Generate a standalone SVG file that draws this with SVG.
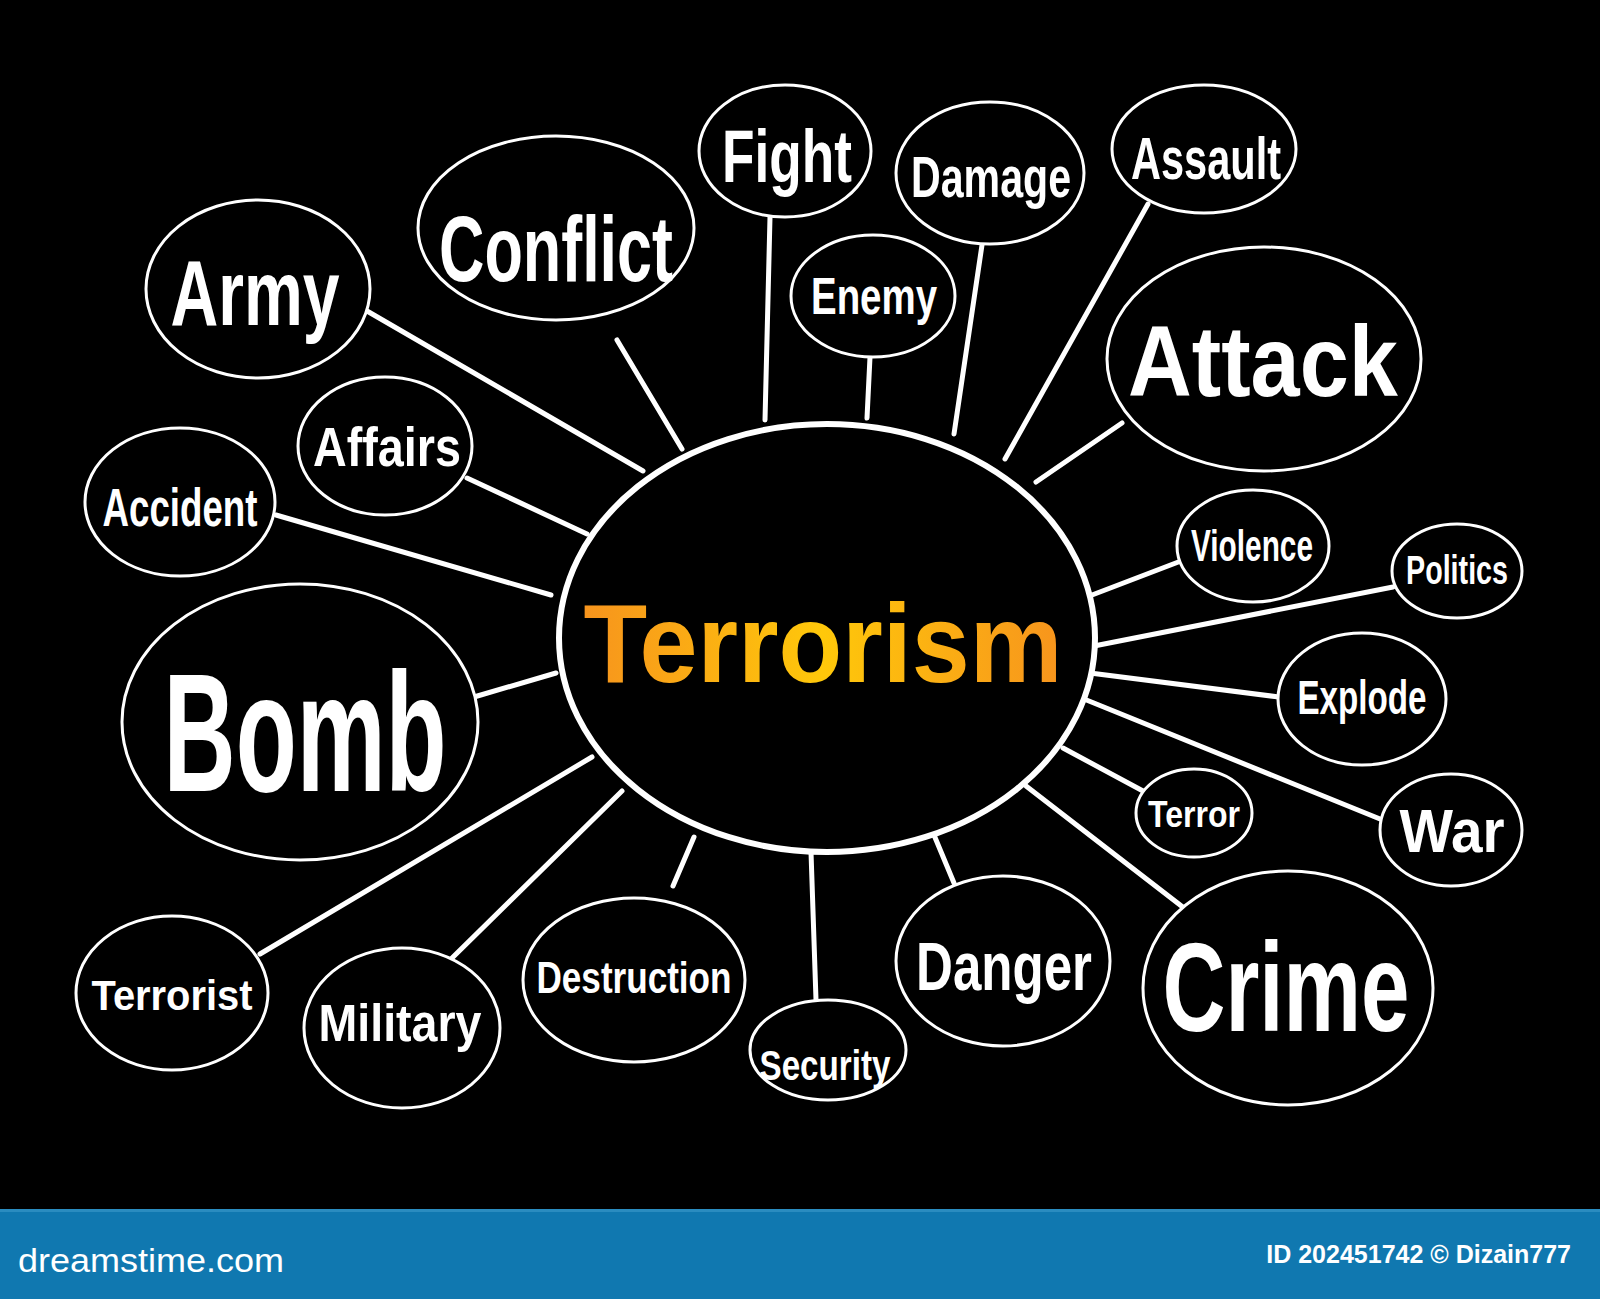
<svg xmlns="http://www.w3.org/2000/svg" width="1600" height="1299" viewBox="0 0 1600 1299">
<defs>
<linearGradient id="og" x1="0" y1="0" x2="1" y2="0">
<stop offset="0" stop-color="#f7941d"/>
<stop offset="0.5" stop-color="#ffc80a"/>
<stop offset="1" stop-color="#f7941d"/>
</linearGradient>
<style>
.n{fill:#000;stroke:#fff;stroke-width:3}
.c{fill:#000;stroke:#fff;stroke-width:6}
.t{fill:#fff;font-family:"Liberation Sans",Arial,sans-serif;font-weight:bold;text-anchor:middle}
.e line{stroke:#fff;stroke-width:5;stroke-linecap:round}
.bar{font-family:"Liberation Sans",Arial,sans-serif;fill:#fff}
</style>
</defs>
<rect width="1600" height="1299" fill="#000"/>
<g id="connectors" class="e">
<line x1="367" y1="311" x2="643" y2="471"/>
<line x1="617" y1="340" x2="682" y2="449"/>
<line x1="770" y1="217" x2="765" y2="420"/>
<line x1="870" y1="357" x2="867" y2="418"/>
<line x1="982" y1="245" x2="954" y2="434"/>
<line x1="1148" y1="204" x2="1005" y2="459"/>
<line x1="1122" y1="423" x2="1036" y2="482"/>
<line x1="467" y1="478" x2="587" y2="534"/>
<line x1="276" y1="515" x2="551" y2="595"/>
<line x1="474" y1="697" x2="556" y2="673"/>
<line x1="1181" y1="561" x2="1092" y2="595"/>
<line x1="1393" y1="587" x2="1094" y2="646"/>
<line x1="1279" y1="697" x2="1090" y2="673"/>
<line x1="1385" y1="821" x2="1084" y2="699"/>
<line x1="1143" y1="791" x2="1063" y2="748"/>
<line x1="1184" y1="908" x2="1026" y2="786"/>
<line x1="954" y1="883" x2="934" y2="835"/>
<line x1="816" y1="1000" x2="811" y2="852"/>
<line x1="673" y1="886" x2="694" y2="837"/>
<line x1="449" y1="961" x2="622" y2="791"/>
<line x1="260" y1="954" x2="592" y2="757"/>
</g>
<g id="center">
<ellipse class="c" cx="827" cy="638" rx="268" ry="214"/>
<text x="823" y="682" font-family="Liberation Sans,Arial,sans-serif" font-weight="bold" font-size="112" text-anchor="middle" fill="url(#og)" textLength="479" lengthAdjust="spacingAndGlyphs">Terrorism</text>
</g>
<g id="army"><ellipse class="n" cx="258" cy="289" rx="112" ry="89"/><text class="t" x="255" y="325" font-size="92" textLength="169" lengthAdjust="spacingAndGlyphs">Army</text></g>
<g id="conflict"><ellipse class="n" cx="556" cy="228" rx="138" ry="92"/><text class="t" x="556" y="281" font-size="92" textLength="234" lengthAdjust="spacingAndGlyphs">Conflict</text></g>
<g id="fight"><ellipse class="n" cx="785" cy="151" rx="86" ry="66"/><text class="t" x="787" y="182" font-size="74" textLength="130" lengthAdjust="spacingAndGlyphs">Fight</text></g>
<g id="damage"><ellipse class="n" cx="990" cy="173" rx="94" ry="71"/><text class="t" x="991" y="197" font-size="58" textLength="160" lengthAdjust="spacingAndGlyphs">Damage</text></g>
<g id="assault"><ellipse class="n" cx="1204" cy="149" rx="92" ry="64"/><text class="t" x="1206" y="179" font-size="60" textLength="150" lengthAdjust="spacingAndGlyphs">Assault</text></g>
<g id="enemy"><ellipse class="n" cx="873" cy="296" rx="82" ry="61"/><text class="t" x="874" y="314" font-size="52" textLength="126" lengthAdjust="spacingAndGlyphs">Enemy</text></g>
<g id="attack"><ellipse class="n" cx="1264" cy="359" rx="157" ry="112"/><text class="t" x="1263" y="396" font-size="100" textLength="270" lengthAdjust="spacingAndGlyphs">Attack</text></g>
<g id="affairs"><ellipse class="n" cx="385" cy="446" rx="87" ry="69"/><text class="t" x="387" y="466" font-size="56" textLength="148" lengthAdjust="spacingAndGlyphs">Affairs</text></g>
<g id="accident"><ellipse class="n" cx="180" cy="502" rx="95" ry="74"/><text class="t" x="180" y="526" font-size="54" textLength="155" lengthAdjust="spacingAndGlyphs">Accident</text></g>
<g id="bomb"><ellipse class="n" cx="300" cy="722" rx="178" ry="138"/><text class="t" x="305" y="791" font-size="168" textLength="283" lengthAdjust="spacingAndGlyphs">Bomb</text></g>
<g id="violence"><ellipse class="n" cx="1253" cy="546" rx="76" ry="56"/><text class="t" x="1252" y="561" font-size="44" textLength="122" lengthAdjust="spacingAndGlyphs">Violence</text></g>
<g id="politics"><ellipse class="n" cx="1457" cy="571" rx="65" ry="47"/><text class="t" x="1457" y="584" font-size="41" textLength="102" lengthAdjust="spacingAndGlyphs">Politics</text></g>
<g id="explode"><ellipse class="n" cx="1362" cy="699" rx="84" ry="66"/><text class="t" x="1362" y="714" font-size="48" textLength="129" lengthAdjust="spacingAndGlyphs">Explode</text></g>
<g id="terror"><ellipse class="n" cx="1194" cy="813" rx="58" ry="44"/><text class="t" x="1194" y="827" font-size="36" textLength="92" lengthAdjust="spacingAndGlyphs">Terror</text></g>
<g id="war"><ellipse class="n" cx="1451" cy="830" rx="71" ry="56"/><text class="t" x="1452" y="852" font-size="62" textLength="105" lengthAdjust="spacingAndGlyphs">War</text></g>
<g id="crime"><ellipse class="n" cx="1288" cy="988" rx="145" ry="117"/><text class="t" x="1286" y="1031" font-size="126" textLength="247" lengthAdjust="spacingAndGlyphs">Crime</text></g>
<g id="danger"><ellipse class="n" cx="1003" cy="961" rx="107" ry="85"/><text class="t" x="1004" y="990" font-size="68" textLength="176" lengthAdjust="spacingAndGlyphs">Danger</text></g>
<g id="security"><ellipse class="n" cx="828" cy="1050" rx="78" ry="50"/><text class="t" x="825" y="1080" font-size="43" textLength="131" lengthAdjust="spacingAndGlyphs">Security</text></g>
<g id="destruction"><ellipse class="n" cx="634" cy="980" rx="111" ry="82"/><text class="t" x="634" y="993" font-size="45" textLength="195" lengthAdjust="spacingAndGlyphs">Destruction</text></g>
<g id="military"><ellipse class="n" cx="402" cy="1028" rx="98" ry="80"/><text class="t" x="400" y="1041" font-size="51" textLength="163" lengthAdjust="spacingAndGlyphs">Military</text></g>
<g id="terrorist"><ellipse class="n" cx="172" cy="993" rx="96" ry="77"/><text class="t" x="172" y="1010" font-size="42" textLength="161" lengthAdjust="spacingAndGlyphs">Terrorist</text></g>
<g id="footer">
<rect x="0" y="1209" width="1600" height="90" fill="#1078b0"/>
<rect x="0" y="1209" width="1600" height="3" fill="#2a8cc0"/>
<text class="bar" x="18" y="1272" font-size="34" textLength="266" lengthAdjust="spacingAndGlyphs">dreamstime.com</text>
<text class="bar" x="1571" y="1263" font-size="25" font-weight="bold" text-anchor="end">ID 202451742 © Dizain777</text>
</g>
</svg>
